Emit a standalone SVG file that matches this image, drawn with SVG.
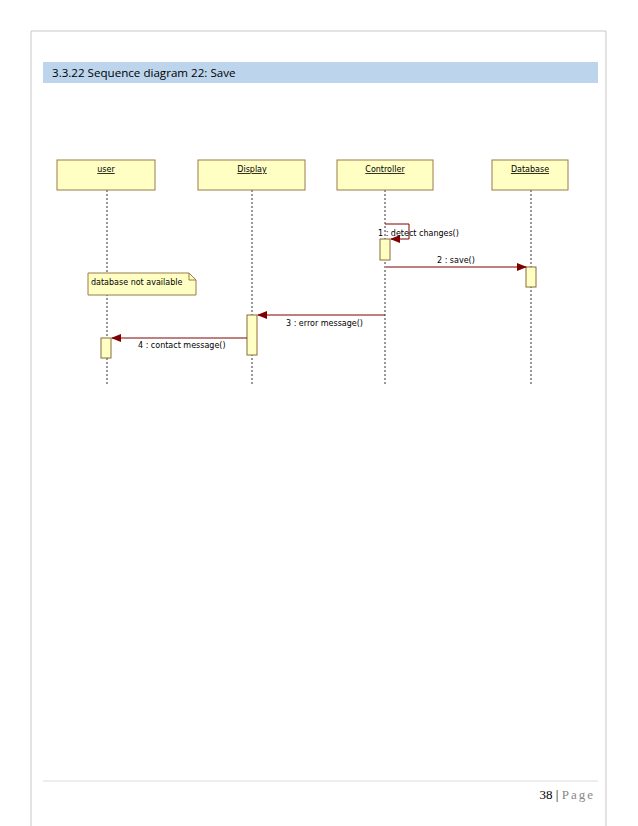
<svg xmlns="http://www.w3.org/2000/svg" width="638" height="826" viewBox="0 0 638 826">
<style>
.box{fill:#ffffc4;stroke:#9b7a4a;stroke-width:1}
.act{fill:#ffffc4;stroke:#8a6a3a;stroke-width:1}
.life{stroke:#333;stroke-width:1;stroke-dasharray:2,2}
.msg{stroke:#800000;stroke-width:1;fill:none}
.t{font-family:Tahoma,"DejaVu Sans",sans-serif;font-size:8px;fill:#000}
.h{font-family:"Open Sans","DejaVu Sans",sans-serif;font-size:11.6px;fill:#000}
.f{font-family:"Liberation Serif","Times New Roman",serif;font-size:13px}
</style>
<defs>
<marker id="ar" markerWidth="10" markerHeight="8" refX="9" refY="4" orient="auto" markerUnits="userSpaceOnUse">
<path d="M0,0 L10,4 L0,8 Z" fill="#800000"/>
</marker>
</defs>
<rect width="638" height="826" fill="#fff"/>
<path d="M31,826 V31 H606 V826" fill="none" stroke="#c8c8c8"/>
<rect x="43" y="62" width="555" height="21" fill="#bcd5ec"/>
<text x="52" y="77" class="h">3.3.22 Sequence diagram 22: Save</text>
<line x1="43" y1="781" x2="598" y2="781" stroke="#ddd"/>
<text x="595" y="799" text-anchor="end" class="f"><tspan fill="#000">38 | </tspan><tspan fill="#888" letter-spacing="2">Page</tspan></text>

<g id="user"><line class="life" x1="107" y1="190" x2="107" y2="385"/><rect class="box" x="57" y="160" width="98" height="30"/><text class="t" x="106" y="172" text-anchor="middle" text-decoration="underline">user</text><rect class="act" x="101" y="338" width="10" height="20"/></g>
<g id="display"><line class="life" x1="252" y1="190" x2="252" y2="385"/><rect class="box" x="198" y="160" width="107" height="30"/><text class="t" x="252" y="172" text-anchor="middle" text-decoration="underline">Display</text><rect class="act" x="247" y="315" width="10" height="40"/></g>
<g id="controller"><line class="life" x1="385" y1="190" x2="385" y2="385"/><rect class="box" x="337" y="160" width="96" height="30"/><text class="t" x="385" y="172" text-anchor="middle" text-decoration="underline">Controller</text><rect class="act" x="380" y="239" width="10" height="21"/></g>
<g id="database"><line class="life" x1="531" y1="190" x2="531" y2="385"/><rect class="box" x="492" y="160" width="76" height="30"/><text class="t" x="530" y="172" text-anchor="middle" text-decoration="underline">Database</text><rect class="act" x="526" y="267" width="10" height="20"/></g>
<g id="note"><path class="box" d="M88,273 H189 L196,280 V295 H88 Z"/><path d="M189,273 V280 H196" fill="none" stroke="#9b7a4a"/><text class="t" x="91" y="285">database not available</text></g>

<g id="connectors">
<path class="msg" d="M385,224 H409 V239 H391" marker-end="url(#ar)"/>
<text class="t" x="378" y="236">1 : detect changes()</text>
<line class="msg" x1="386" y1="267" x2="526" y2="267" marker-end="url(#ar)"/>
<text class="t" x="437" y="263">2 : save()</text>
<line class="msg" x1="385" y1="315" x2="258" y2="315" marker-end="url(#ar)"/>
<text class="t" x="286" y="326">3 : error message()</text>
<line class="msg" x1="247" y1="338" x2="112" y2="338" marker-end="url(#ar)"/>
<text class="t" x="138" y="348">4 : contact message()</text>
</g>
</svg>
